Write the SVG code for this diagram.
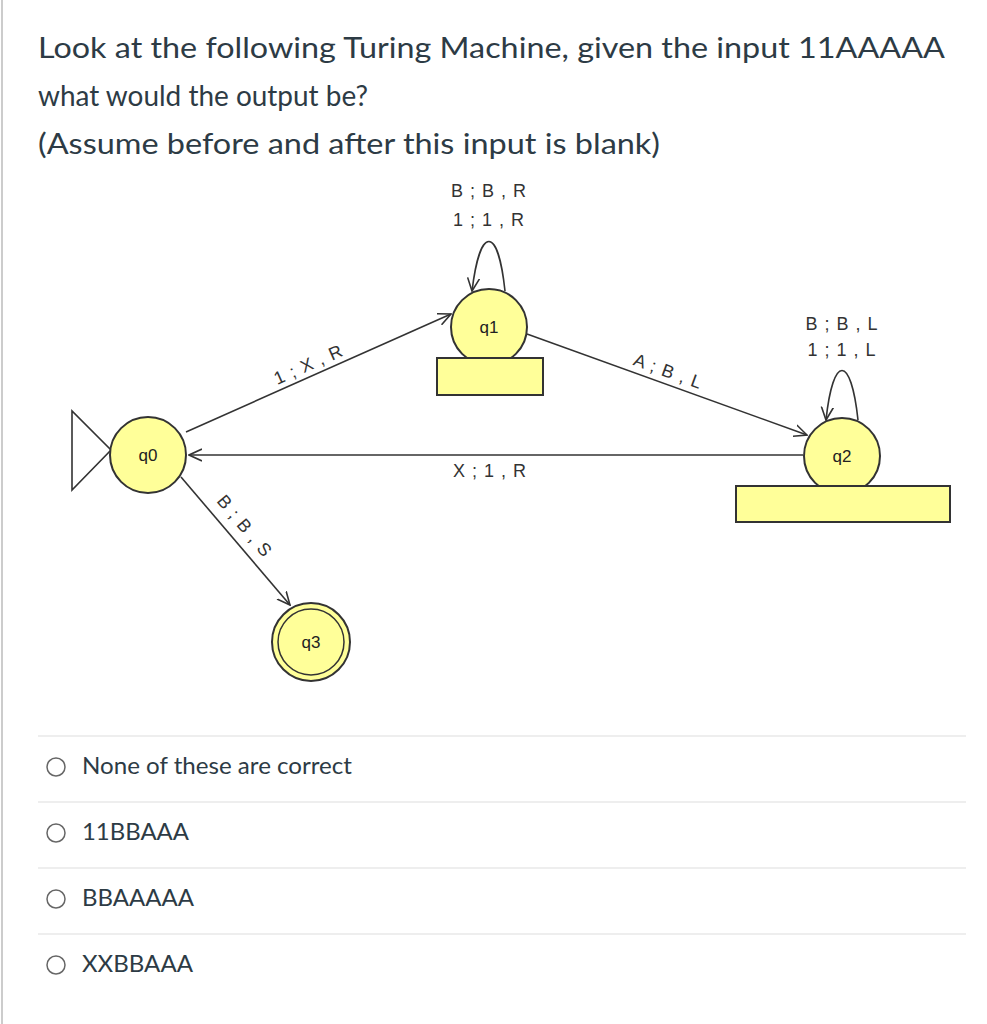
<svg xmlns="http://www.w3.org/2000/svg" width="987" height="1024" viewBox="0 0 987 1024">
<style>
.h{font-family:Lato,"Liberation Sans",sans-serif;font-size:29px;fill:#2d3b45}
.o{font-family:Lato,"Liberation Sans",sans-serif;font-size:23px;fill:#2d3b45}
.l{font-family:"Liberation Sans",Arial,sans-serif;font-size:18px;fill:#333;letter-spacing:1px}
.n{font-family:"Liberation Sans",Arial,sans-serif;font-size:17px;fill:#222}
.st{fill:#ffff99;stroke:#333;stroke-width:2}
.e{fill:none;stroke:#333;stroke-width:1.6}
.sep{stroke:#ddd;stroke-width:1}
.r{fill:#fff;stroke:#666;stroke-width:1.5}
</style>
<defs><marker id="a" viewBox="0 0 14 14" refX="13" refY="7" markerWidth="14" markerHeight="14" markerUnits="userSpaceOnUse" orient="auto"><path d="M0,1 L13,7 L0,13" fill="none" stroke="#333" stroke-width="1.6"/></marker></defs>
<rect width="987" height="1024" fill="#fff"/>
<line x1="2" y1="0" x2="2" y2="1024" stroke="#ccc" stroke-width="2"/>
<text class="h" x="38" y="58" textLength="907" lengthAdjust="spacingAndGlyphs">Look at the following Turing Machine, given the input 11AAAAA</text>
<text class="h" x="38" y="106" textLength="330" lengthAdjust="spacingAndGlyphs">what would the output be?</text>
<text class="h" x="38" y="154" textLength="622" lengthAdjust="spacingAndGlyphs">(Assume before and after this input is blank)</text>
<g id="connectors">
<path class="e" d="M505,291 C498,225 480,225 472,291" marker-end="url(#a)"/>
<path class="e" d="M858,420 C851,354 833,354 826,420" marker-end="url(#a)"/>
<line class="e" x1="186" y1="432" x2="451" y2="314" marker-end="url(#a)"/>
<line class="e" x1="527" y1="334" x2="807" y2="435" marker-end="url(#a)"/>
<line class="e" x1="803" y1="455" x2="189" y2="455" marker-end="url(#a)"/>
<line class="e" x1="181" y1="477" x2="290" y2="605" marker-end="url(#a)"/>
<text class="l" x="489" y="197" text-anchor="middle">B ; B , R</text>
<text class="l" x="489" y="226" text-anchor="middle">1 ; 1 , R</text>
<text class="l" x="842" y="330" text-anchor="middle">B ; B , L</text>
<text class="l" x="842" y="356" text-anchor="middle">1 ; 1 , L</text>
<text class="l" x="490" y="477" text-anchor="middle">X ; 1 , R</text>
<text class="l" text-anchor="middle" transform="translate(311,370) rotate(-24)">1 ; X , R</text>
<text class="l" text-anchor="middle" transform="translate(666,377) rotate(20)">A ; B , L</text>
<text class="l" text-anchor="middle" transform="translate(240,530) rotate(50)">B ; B , S</text>
</g>
<g id="start"><path d="M72,411 L72,490 L111,450 Z" fill="none" stroke="#333" stroke-width="1.6"/></g>
<g id="q0"><circle class="st" cx="148" cy="455" r="38"/><text class="n" x="148" y="461" text-anchor="middle">q0</text></g>
<g id="q1"><circle class="st" cx="489" cy="327" r="38"/><rect class="st" x="437" y="358" width="106" height="37"/><text class="n" x="489" y="333" text-anchor="middle">q1</text></g>
<g id="q2"><circle class="st" cx="842" cy="456" r="38"/><rect class="st" x="736" y="486" width="214" height="36"/><text class="n" x="842" y="462" text-anchor="middle">q2</text></g>
<g id="q3"><circle class="st" cx="311" cy="642" r="39"/><circle cx="311" cy="642" r="33" fill="none" stroke="#333" stroke-width="1.5"/><text class="n" x="311" y="648" text-anchor="middle">q3</text></g>
<line class="sep" x1="38" y1="736" x2="966" y2="736"/>
<line class="sep" x1="38" y1="802" x2="966" y2="802"/>
<line class="sep" x1="38" y1="868" x2="966" y2="868"/>
<line class="sep" x1="38" y1="934" x2="966" y2="934"/>
<circle class="r" cx="56" cy="767" r="9"/><text class="o" x="82" y="774" textLength="270" lengthAdjust="spacingAndGlyphs">None of these are correct</text>
<circle class="r" cx="56" cy="833" r="9"/><text class="o" x="82" y="840" textLength="107" lengthAdjust="spacingAndGlyphs">11BBAAA</text>
<circle class="r" cx="56" cy="899" r="9"/><text class="o" x="82" y="906" textLength="112" lengthAdjust="spacingAndGlyphs">BBAAAAA</text>
<circle class="r" cx="56" cy="965" r="9"/><text class="o" x="82" y="972" textLength="111" lengthAdjust="spacingAndGlyphs">XXBBAAA</text>
</svg>
